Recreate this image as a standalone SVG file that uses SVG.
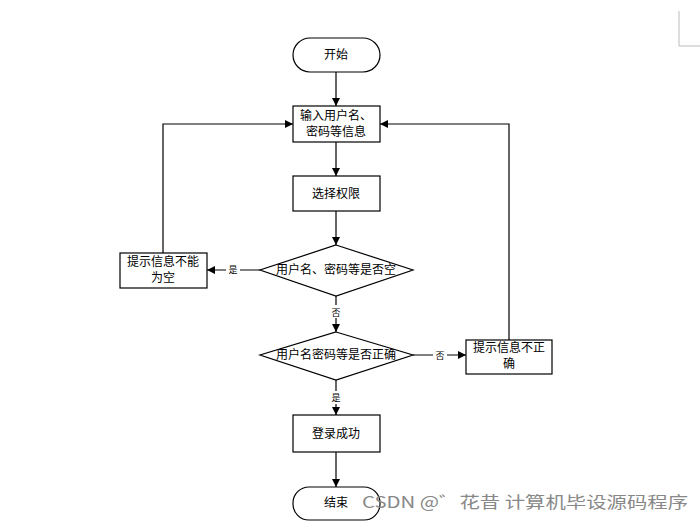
<svg xmlns="http://www.w3.org/2000/svg" width="700" height="523" viewBox="0 0 700 523">
<defs><marker id="a" viewBox="0 0 10 10" refX="10" refY="5" markerWidth="7" markerHeight="7" orient="auto"><path d="M0,0L10,5L0,10z" fill="#000"/></marker></defs>
<style>.s{fill:#fff;stroke:#000;stroke-width:1.2}.t{font-family:"Noto Sans CJK SC",sans-serif;font-size:12px;text-anchor:middle;fill:#000}.l{font-family:"Noto Sans CJK SC",sans-serif;font-size:9px;text-anchor:middle;fill:#000}.c{fill:none;stroke:#000;stroke-width:1.2;marker-end:url(#a)}</style>
<rect width="700" height="523" fill="#fff"/>
<path d="M679,11V46H700" fill="none" stroke="#bbb"/>
<g id="connectors">
<path class="c" d="M336,72V106"/><path class="c" d="M336,142V176"/><path class="c" d="M336,211V245"/>
<path class="c" d="M260,270H207"/><path class="c" d="M163,253V124H293"/>
<path class="c" d="M336,296V332"/><path class="c" d="M413,355H466"/><path class="c" d="M509,340V124H380"/>
<path class="c" d="M336,380V415"/><path class="c" d="M336,452V487"/>
<rect x="226" y="263" width="14" height="13" fill="#fff"/><text class="l" x="233" y="273">是</text>
<rect x="329" y="305" width="14" height="13" fill="#fff"/><text class="l" x="336" y="316">否</text>
<rect x="433" y="349" width="14" height="13" fill="#fff"/><text class="l" x="440" y="359">否</text>
<rect x="329" y="391" width="14" height="13" fill="#fff"/><text class="l" x="336" y="401">是</text>
</g>
<g id="start"><rect class="s" x="293" y="38" width="87" height="34" rx="17"/><text class="t" x="336" y="59">开始</text></g>
<g id="input"><rect class="s" x="293" y="106" width="87" height="36"/><text class="t" x="336" y="120">输入用户名、</text><text class="t" x="336" y="136">密码等信息</text></g>
<g id="select"><rect class="s" x="293" y="176" width="87" height="35"/><text class="t" x="336" y="198">选择权限</text></g>
<g id="d1"><path class="s" d="M336,245L413,270L336,296L260,270z"/><text class="t" x="336" y="274">用户名、密码等是否空</text></g>
<g id="empty"><rect class="s" x="120" y="253" width="87" height="35"/><text class="t" x="163" y="266">提示信息不能</text><text class="t" x="163" y="282">为空</text></g>
<g id="d2"><path class="s" d="M336,332L413,355L336,380L260,355z"/><text class="t" x="336" y="359">用户名密码等是否正确</text></g>
<g id="wrong"><rect class="s" x="466" y="340" width="86" height="34"/><text class="t" x="509" y="352">提示信息不正</text><text class="t" x="509" y="368">确</text></g>
<g id="ok"><rect class="s" x="293" y="415" width="87" height="37"/><text class="t" x="336" y="438">登录成功</text></g>
<g id="end"><rect class="s" x="293" y="487" width="87" height="33" rx="16"/><text class="t" x="336" y="507">结束</text></g>
<text x="362" y="508" font-family="'Noto Sans CJK SC',sans-serif" font-size="16" fill="#888" textLength="326" lengthAdjust="spacingAndGlyphs">CSDN @゛花昔  计算机毕设源码程序</text>
</svg>
